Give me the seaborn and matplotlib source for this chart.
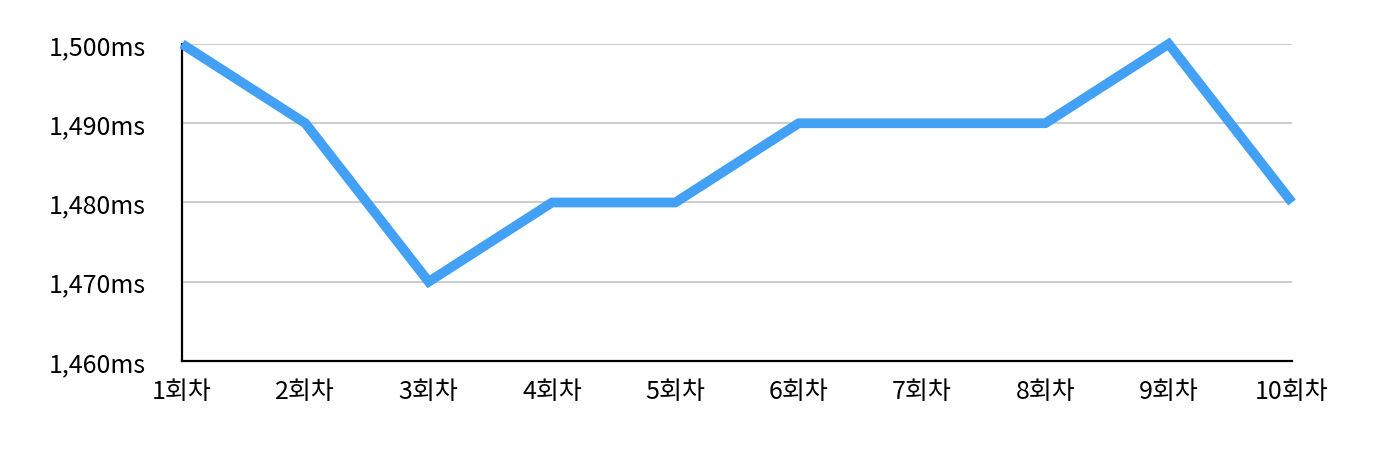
import pandas as pd
import matplotlib
matplotlib.use("Agg")
import matplotlib.pyplot as plt
import seaborn as sns
from matplotlib.ticker import FuncFormatter

rounds = ["1회차", "2회차", "3회차", "4회차", "5회차", "6회차", "7회차", "8회차", "9회차", "10회차"]
times_ms = [1500, 1490, 1470, 1480, 1480, 1490, 1490, 1490, 1500, 1480]
yticks = [1460, 1470, 1480, 1490, 1500]

data = pd.DataFrame({"회차": rounds, "시간": times_ms})

sns.set_style("white")
plt.rcParams["font.family"] = ["Noto Sans CJK KR", "DejaVu Sans"]

fig = plt.figure(figsize=(13.94, 4.52), dpi=100)
ax = fig.add_axes([182 / 1394, 1 - 362 / 452, (1292 - 182) / 1394, (362 - 45) / 452])

sns.lineplot(x="회차", y="시간", data=data, ax=ax, color="#42A0F5", linewidth=7,
             sort=False, clip_on=False, zorder=3,
             solid_capstyle="butt", solid_joinstyle="miter")

ax.set_xlim(0, len(rounds) - 1)
ax.set_ylim(1460, 1500)
ax.set_yticks(yticks)
ax.yaxis.set_major_formatter(FuncFormatter(lambda v, p: f"{int(v):,}ms"))
for y in yticks[1:]:
    ax.axhline(y, color="#C8C8C8", linewidth=1.3, zorder=1)

ax.set_xlabel("")
ax.set_ylabel("")
for s in ["top", "right"]:
    ax.spines[s].set_visible(False)
for s in ["left", "bottom"]:
    ax.spines[s].set_color("black")
    ax.spines[s].set_linewidth(1.6)
ax.tick_params(axis="y", length=0, pad=26, labelsize=18, labelcolor="black")
ax.tick_params(axis="x", length=0, pad=12, labelsize=18, labelcolor="black")

fig.savefig("out.png", dpi=100)
